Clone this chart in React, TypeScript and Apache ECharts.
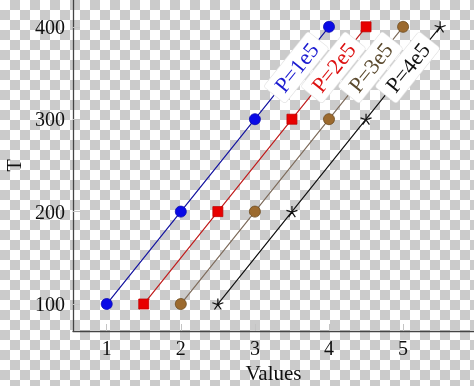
import React, { useEffect, useRef } from "react";
import * as echarts from "echarts";

const xTicks = [1, 2, 3, 4, 5];
const yTicks = [100, 200, 300, 400];
const tValues = [100, 200, 300, 400];
const valuesP1 = [1, 2, 3, 4];
const valuesP2 = [1.5, 2.5, 3.5, 4.5];
const valuesP3 = [2, 3, 4, 5];
const valuesP4 = [2.5, 3.5, 4.5, 5.5];
const seriesNames = ["P=1e5", "P=2e5", "P=3e5", "P=4e5"];

const FONT = "'Liberation Serif', 'DejaVu Serif', serif";
const STAR = "path://M0,-10L0,0M9.51,-3.09L0,0M5.88,8.09L0,0M-5.88,8.09L0,0M-9.51,-3.09L0,0";

export default function App() {
  const ref = useRef<HTMLDivElement>(null);
  useEffect(() => {
    if (!ref.current) return;
    const chart = echarts.init(ref.current, undefined, { renderer: "svg" });
    const all = [valuesP1, valuesP2, valuesP3, valuesP4];
    const styles = [
      { line: "#1414a0", fill: "#0a0ae6", border: "#0a0ab0", text: "#1a1ad0", symbol: "circle", size: 11 },
      { line: "#c01c1c", fill: "#e80000", border: "#c00000", text: "#dd1111", symbol: "rect", size: 10 },
      { line: "#7e6c5c", fill: "#9c6a2e", border: "#6b4a20", text: "#5b4a2e", symbol: "circle", size: 11 },
      { line: "#111111", fill: "none", border: "#111111", text: "#111111", symbol: STAR, size: 11 },
    ];
    const frac = 0.56;
    const series = all.map((xs, i) => {
      const s = styles[i];
      const n = xs.length;
      const lx = xs[n - 2] + frac * (xs[n - 1] - xs[n - 2]);
      const ly = tValues[n - 2] + frac * (tValues[n - 1] - tValues[n - 2]);
      return {
        type: "line",
        name: seriesNames[i],
        data: xs.map((x, j) => [x, tValues[j]]),
        symbol: s.symbol,
        symbolSize: s.size,
        showAllSymbol: true,
        lineStyle: { color: s.line, width: 1.2 },
        itemStyle: {
          color: s.fill,
          borderColor: s.border,
          borderWidth: i === 3 ? 1.2 : 0.8,
        },
        z: 2,
        markPoint: {
          symbol: "circle",
          symbolSize: 1,
          itemStyle: { color: "transparent" },
          z: 5,
          label: {
            show: true,
            position: "inside",
            rotate: 51.3,
            formatter: seriesNames[i],
            color: s.text,
            fontFamily: FONT,
            fontSize: 22,
            backgroundColor: "#ffffff",
            borderColor: "#e4e4e4",
            borderWidth: 0.6,
            borderRadius: 3,
            padding: [4, 7, 1, 7],
          },
          data: [{ coord: [lx, ly], name: seriesNames[i] }],
        },
      };
    });
    chart.setOption({
      animation: false,
      backgroundColor: "transparent",
      grid: { left: 73, right: 0, top: 0, bottom: 55, containLabel: false, outerBoundsMode: "none" },
      xAxis: {
        type: "value",
        min: 0.545,
        max: 5.957,
        name: "Values",
        nameLocation: "middle",
        nameGap: 31,
        nameTextStyle: { fontFamily: FONT, fontSize: 21, color: "#111" },
        splitLine: { show: false },
        axisLine: { show: true, onZero: false, lineStyle: { color: "#444", width: 1.3 } },
        axisTick: { show: true, inside: true, length: 7, customValues: xTicks, lineStyle: { color: "#c4c4c4", width: 1 } },
        axisLabel: { customValues: xTicks, fontFamily: FONT, fontSize: 20, color: "#111", margin: 7 },
      },
      yAxis: {
        type: "value",
        min: 70.8,
        max: 429,
        name: "T",
        nameLocation: "middle",
        nameGap: 49,
        nameTextStyle: { fontFamily: FONT, fontSize: 20, color: "#111" },
        splitLine: { show: false },
        axisLine: { show: true, onZero: false, lineStyle: { color: "#444", width: 1.3 } },
        axisTick: { show: true, inside: true, length: 7, customValues: yTicks, lineStyle: { color: "#c4c4c4", width: 1 } },
        axisLabel: { customValues: yTicks, fontFamily: FONT, fontSize: 20, color: "#111", margin: 8 },
      },
      series,
    });
    return () => chart.dispose();
  }, []);
  return (
    <div
      style={{
        position: "fixed",
        left: 0,
        top: 0,
        width: 474,
        height: 386,
        backgroundImage:
          "conic-gradient(#cbcbcb 25%, #ffffff 0 50%, #cbcbcb 0 75%, #ffffff 0)",
        backgroundSize: "20px 20px",
        backgroundPosition: "0 0",
      }}
    >
      <div ref={ref} style={{ width: 474, height: 386 }} />
    </div>
  );
}
